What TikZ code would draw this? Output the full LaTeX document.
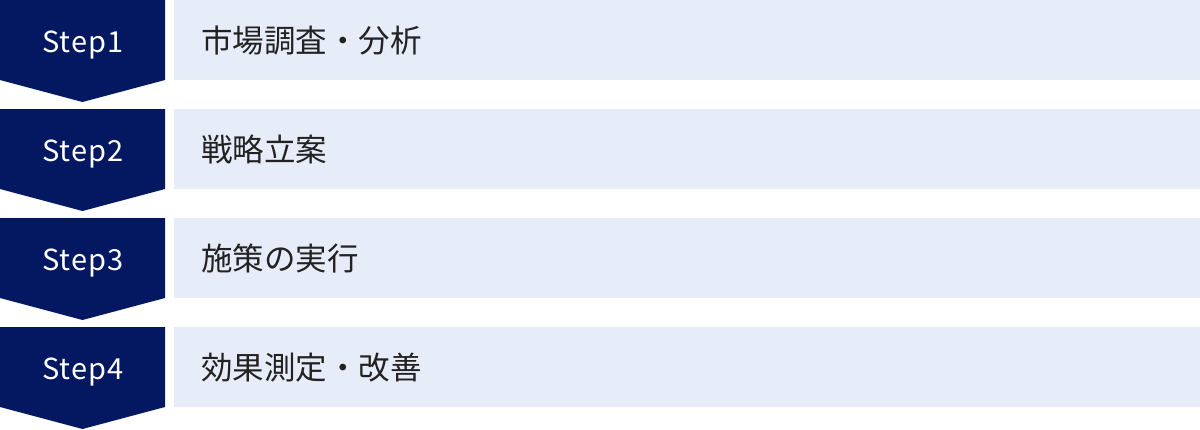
\documentclass[tikz,border=0pt]{standalone}
\usepackage{fontspec}
\newfontfamily\jp{Noto Sans CJK JP}
\definecolor{navy}{HTML}{031860}
\definecolor{lightbg}{HTML}{E6ECF8}
\definecolor{txt}{HTML}{222222}
\tikzset{
  stepbox/.style={fill=navy, draw=none},
  labelbox/.style={fill=lightbg, draw=none},
  steptext/.style={text=white, font=\jp\fontsize{29}{34}\selectfont\addfontfeature{LetterSpace=4}, inner sep=0pt, anchor=base},
  bodytext/.style={text=txt, font=\jp\fontsize{31.5}{36}\selectfont, inner sep=0pt, anchor=base west},
}
\begin{document}
\begin{tikzpicture}[x=1pt,y=-1pt]
\useasboundingbox (0,0) rectangle (1200,429);
\foreach \i/\s/\t in {0/Step1/市場調査・分析, 1/Step2/戦略立案, 2/Step3/施策の実行, 3/Step4/効果測定・改善}{
  \pgfmathsetmacro{\yy}{\i*109}
  \fill[stepbox] (0,\yy) -- (165,\yy) -- (165,\yy+80) -- (82.5,\yy+102) -- (0,\yy+80) -- cycle;
  \fill[labelbox] (174,\yy) rectangle (1200,\yy+80);
  \node[steptext] (s\i) at (83,\yy+52) {\s};
  \node[bodytext] (b\i) at (201,\yy+52) {\t};
}
\end{tikzpicture}
\end{document}
